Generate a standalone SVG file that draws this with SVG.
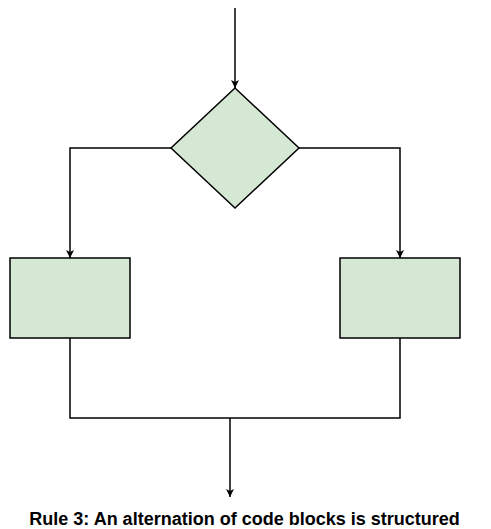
<svg xmlns="http://www.w3.org/2000/svg" width="491" height="529" viewBox="0 0 491 529">
<style>
.shape{fill:#d5e8d4;stroke:#000;stroke-width:1.5}
.edge{fill:none;stroke:#000;stroke-width:1.5}
.label{font-family:"Liberation Sans",Arial,sans-serif;font-size:18px;font-weight:bold;fill:#000}
</style>
<defs>
<marker id="arr" viewBox="0 0 10 10" refX="10" refY="5" markerWidth="8" markerHeight="8" markerUnits="userSpaceOnUse" orient="auto">
<path d="M0,0 L10,5 L0,10 L2.5,5 Z" fill="#000"/>
</marker>
</defs>
<rect width="491" height="529" fill="#fff"/>
<g id="connectors">
<path class="edge" d="M235,8 V88" marker-end="url(#arr)"/>
<path class="edge" d="M171,148 H70 V258" marker-end="url(#arr)"/>
<path class="edge" d="M299,148 H400 V258" marker-end="url(#arr)"/>
<path class="edge" d="M70,338 V418 H400 V338"/>
<path class="edge" d="M230,418 V497" marker-end="url(#arr)"/>
</g>
<g id="decision">
<path class="shape" d="M235,88 L299,148 L235,208 L171,148 Z"/>
</g>
<g id="block-left">
<rect class="shape" x="10" y="258" width="120" height="80"/>
</g>
<g id="block-right">
<rect class="shape" x="340" y="258" width="120" height="80"/>
</g>
<g id="caption">
<text class="label" x="244.5" y="525" text-anchor="middle">Rule 3: An alternation of code blocks is structured</text>
</g>
</svg>
